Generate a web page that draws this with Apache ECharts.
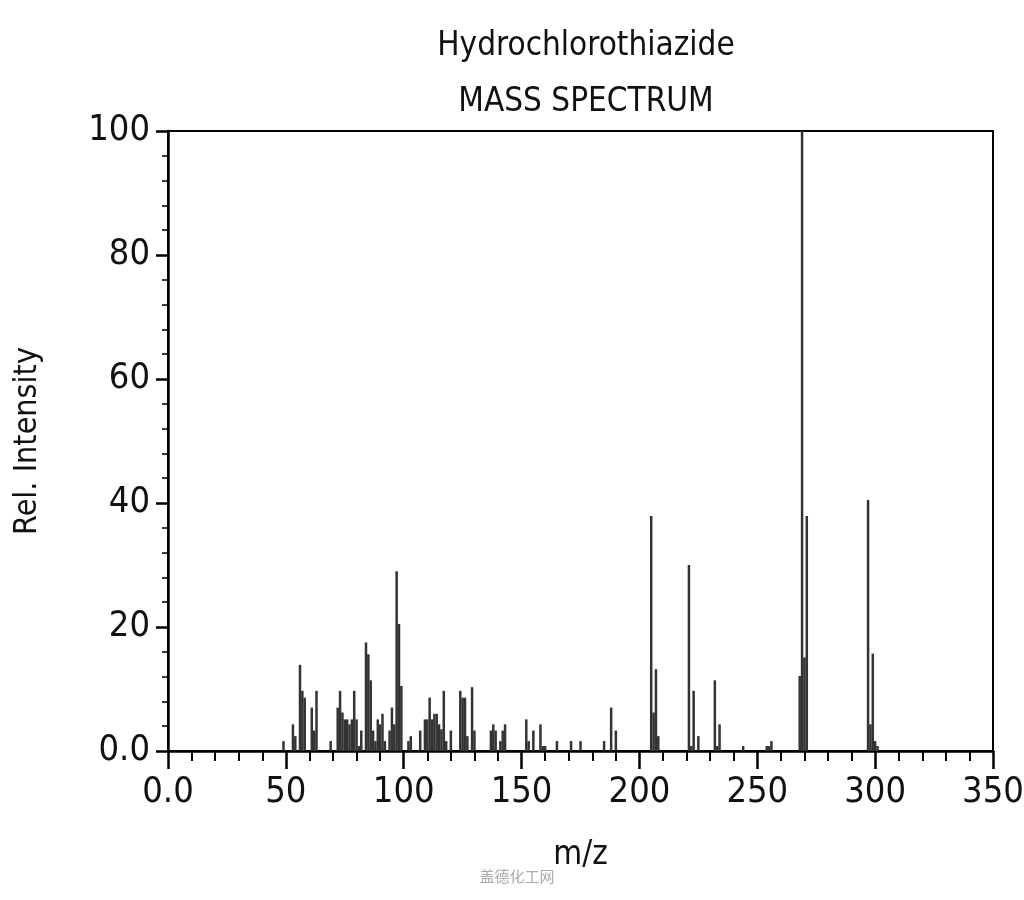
<!DOCTYPE html>
<html><head><meta charset="utf-8">
<script src="https://cdn.jsdelivr.net/npm/echarts@6/dist/echarts.min.js"></script>
<style>html,body{margin:0;background:#fff}#c{width:1024px;height:900px}</style>
</head><body><div id="c"></div>
<script>
const mz = [49,53,54,56,57,58,61,62,63,69,72,73,74,75,76,77,78,79,80,81,82,84,85,86,87,88,89,90,91,92,94,95,96,97,98,99,102,103,107,109,110,111,112,113,114,115,116,117,118,120,124,125,126,127,129,130,137,138,139,141,142,143,152,153,155,158,159,160,165,171,175,185,188,190,205,206,207,208,221,222,223,225,232,233,234,244,254,255,256,268,269,270,271,297,298,299,300,301];
const intensity = [1.6,4.3,2.4,13.9,9.7,8.6,7.0,3.3,9.7,1.6,7.0,9.7,6.2,5.1,5.1,4.3,5.1,9.7,5.1,0.8,3.3,17.5,15.6,11.4,3.3,1.6,5.1,4.3,6.0,1.6,3.3,7.0,4.3,29.0,20.5,10.5,1.6,2.4,3.3,5.1,5.1,8.6,5.1,6.0,6.0,4.3,3.5,9.7,1.6,3.3,9.7,8.6,8.6,2.4,10.3,3.3,3.3,4.3,3.3,1.6,3.3,4.3,5.1,1.6,3.3,4.3,0.8,0.8,1.6,1.6,1.6,1.6,7.0,3.3,37.9,6.2,13.2,2.4,30.0,0.8,9.7,2.4,11.4,0.8,4.3,0.8,0.8,0.8,1.6,12.1,100,15.1,37.9,40.5,4.3,15.7,1.6,0.8];
const titleLines = ['Hydrochlorothiazide','MASS SPECTRUM'];
const F = 'DejaVu Sans Condensed, DejaVu Sans';
const chart = echarts.init(document.getElementById('c'));
chart.setOption({
  animation:false,
  title:[{text:titleLines[0],left:581,top:25,textAlign:'center',textStyle:{fontFamily:F,fontSize:33,fontWeight:'normal',color:'#111'}},
         {text:titleLines[1],left:581,top:81,textAlign:'center',textStyle:{fontFamily:F,fontSize:33,fontWeight:'normal',color:'#111'}},
         {text:'盖德化工网',left:512,top:864,textAlign:'center',textStyle:{fontFamily:'Noto Sans CJK SC',fontSize:15,fontWeight:'normal',color:'#aaa'}}],
  grid:{left:168,right:31,top:131,bottom:149,containLabel:false,outerBoundsMode:'none',show:true,borderColor:'#000',borderWidth:2},
  xAxis:{type:'value',min:0,max:350,interval:50,name:'m/z',nameLocation:'middle',nameGap:88,
    nameTextStyle:{fontFamily:F,fontSize:33,color:'#111'},
    axisLine:{lineStyle:{color:'#000',width:2.5}},axisTick:{length:18,lineStyle:{color:'#000',width:2.5}},
    minorTick:{show:true,splitNumber:5,length:10,lineStyle:{color:'#000',width:2}},
    splitLine:{show:false},
    axisLabel:{fontFamily:F,fontSize:36,color:'#111',margin:24,formatter:v=>v===0?'0.0':String(v)}},
  yAxis:{type:'value',min:0,max:100,interval:20,name:'Rel. Intensity',nameLocation:'middle',nameGap:124,
    nameTextStyle:{fontFamily:F,fontSize:32,color:'#111'},
    axisLine:{lineStyle:{color:'#000',width:2.5}},axisTick:{length:12,lineStyle:{color:'#000',width:2.5}},
    minorTick:{show:true,splitNumber:5,length:6,lineStyle:{color:'#000',width:1.5}},
    splitLine:{show:false},
    axisLabel:{fontFamily:F,fontSize:36,color:'#111',margin:18,formatter:v=>v===0?'0.0':String(v)}},
  series:[{type:'bar',barWidth:2.5,itemStyle:{color:'#333'},data:mz.map((m,i)=>[m,intensity[i]])}]
});
</script></body></html>
